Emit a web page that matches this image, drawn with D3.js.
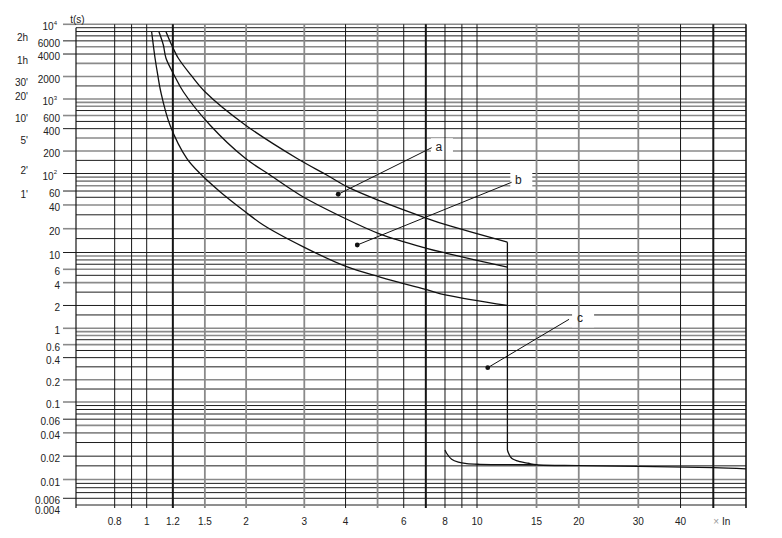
<!DOCTYPE html>
<html><head><meta charset="utf-8">
<script src="https://cdn.jsdelivr.net/npm/d3@7"></script>
<style>
body{margin:0;background:#fff}
text{font-family:"Liberation Sans",Arial,sans-serif}
</style>
</head><body>
<svg id="chart" width="782" height="538"></svg>
<script>
// ---------- data ----------
const xGridValues = [0.8,0.9,1,1.2,1.5,2,3,4,5,6,7,8,9,10,15,20,30,40,50];
const xThickValues = [1.2,7,50];
const xGreyValues = [1.5,2,3,5,15,20,30];
const xTickLabels = [0.8,1,1.2,1.5,2,3,4,6,8,10,15,20,30,40];
const xUnitLabel = "In";

const yGridValues = [10000,9000,8000,7000,6000,5000,4000,3000,2000,1500,
  1000,900,800,700,600,500,400,300,200,150,
  100,90,80,70,60,50,40,30,20,15,
  10,9,8,7,6,5,4,3,2,1.5,
  1,0.9,0.8,0.7,0.6,0.5,0.4,0.3,0.2,0.15,
  0.1,0.09,0.08,0.07,0.06,0.05,0.04,0.03,0.02,0.015,
  0.01,0.009,0.008,0.007,0.006,0.005];
const yGreyValues = [10000,5000,3000,2000,1500,1000,900,800,600,300,200,90,80,70,40,20,9,8,6,4,1,0.9,0.8,0.6,0.2,0.1,0.05,0.04,0.01];
const yTickLabels = [[10000,"10","4"],[6000,"6000"],[4000,"4000"],[2000,"2000"],[1000,"10","3"],
  [600,"600"],[400,"400"],[200,"200"],[100,"10","2"],[60,"60"],[40,"40"],[20,"20"],[10,"10"],
  [6,"6"],[4,"4"],[2,"2"],[1,"1"],[0.6,"0.6"],[0.4,"0.4"],[0.2,"0.2"],[0.1,"0.1"],
  [0.06,"0.06"],[0.04,"0.04"],[0.02,"0.02"],[0.01,"0.01"],[0.006,"0.006"],[0.004,"0.004"]];
const timeLabels = [["2h",7200],["1h",3600],["30'",1800],["20'",1200],["10'",600],["5'",300],["2'",120],["1'",60]];
const yUnitLabel = "t(s)";

// curves: [multiple of In, time in s]
const curveA = [[1.144,7950],[1.19,5280],[1.247,3510],[1.36,2100],[1.501,1250],[1.988,448],[2.846,160],[3.507,95.7],
  [4.08,66.6],[5.09,44.9],[7.04,27.1],[8.09,22.3],[12.3,13.5]];
const curveB = [[1.089,7950],[1.123,5280],[1.144,3510],[1.21,2100],[1.291,1250],[1.554,448],[1.988,160],[2.362,95.7],
  [2.98,50.4],[3.85,29.0],[5.09,17.1],[7.04,11.3],[8.09,9.76],[12.3,6.4]];
const curveC = [[1.035,7950],[1.047,5280],[1.06,3510],[1.08,2100],[1.103,1250],[1.176,448],[1.322,160],[1.467,95.7],
  [1.667,58.9],[1.988,32.8],[2.254,22.3],[2.98,11.8],[4.03,6.5],[5.09,4.75],[7.04,3.23],[8.09,2.74],[12.3,2.0]];
const dropA = [[12.3,13.5],[12.3,0.024]];
const tailA = [[12.3,0.024],[12.4,0.0218],[12.66,0.0188],[13.4,0.017],[14.18,0.0162],[15,0.0155],[20,0.0151],[30,0.0148],[50,0.0142],[62.5,0.0137]];
const dropTail8 = [[8,0.024],[8.09,0.0218],[8.38,0.0182],[8.78,0.0167],[9.31,0.016],[10.2,0.0157],[15,0.0155]];

// annotations: name, dot, line end, label position
const annotations = [
  {name:"a", dot:[3.80,54.6], end:[7.29,222], label:[7.67,225]},
  {name:"b", dot:[4.34,12.45], end:[12.66,77.4], label:[13.25,82.8]},
  {name:"c", dot:[10.76,0.292], end:[18.72,1.314], label:[20.18,1.355]}
];

// ---------- scales ----------
const x = d3.scaleLog().domain([0.611,1,10,50,62.5]).range([76,146.7,477,713.3,746]);
const y = d3.scaleLog().domain([10000,1000,100,10,1,0.1,0.01,0.005,0.004])
  .range([24.3,99,173.5,252.5,328.3,402,479.5,505,508]);

const svg = d3.select("#chart");
svg.append("rect").attr("width",782).attr("height",538).attr("fill","#fff");

const xMin = x(0.611), xMax = x(62.5);
const yTop = y(10000), yBot = y(0.004);
const isGreyY = v => yGreyValues.includes(v);

// horizontal grid
svg.append("g").selectAll("line").data(yGridValues).join("line")
  .attr("x1",xMin).attr("x2",xMax)
  .attr("y1",d=>y(d)).attr("y2",d=>y(d))
  .attr("stroke",d=>isGreyY(d)?"#8a8a8a":"#1e1e1e")
  .attr("stroke-width",d=>isGreyY(d)?1.6:1);

// tick extensions for labelled values
svg.append("g").selectAll("line").data(yTickLabels.filter(d=>d[0]>0.005)).join("line")
  .attr("x1",63).attr("x2",xMin)
  .attr("y1",d=>y(d[0])).attr("y2",d=>y(d[0]))
  .attr("stroke",d=>isGreyY(d[0])?"#8a8a8a":"#1e1e1e")
  .attr("stroke-width",d=>isGreyY(d[0])?1.6:1);

// white boxes behind annotation letters
svg.append("g").selectAll("rect").data(annotations).join("rect")
  .attr("x",d=>x(d.label[0])-8).attr("y",d=>y(d.label[1])-9)
  .attr("width",22).attr("height",18).attr("fill","#fff");

// vertical grid
svg.append("g").selectAll("line").data(xGridValues).join("line")
  .attr("x1",d=>x(d)).attr("x2",d=>x(d))
  .attr("y1",yTop).attr("y2",yBot)
  .attr("stroke",d=>xGreyValues.includes(d)?"#8a8a8a":"#151515")
  .attr("stroke-width",d=>xThickValues.includes(d)?2:(xGreyValues.includes(d)?1.8:1));
// frame sides
svg.append("line").attr("x1",xMin).attr("x2",xMin).attr("y1",y(9000)).attr("y2",yBot).attr("stroke","#151515").attr("stroke-width",1.2);
svg.append("line").attr("x1",xMax).attr("x2",xMax).attr("y1",yTop).attr("y2",yBot).attr("stroke","#151515").attr("stroke-width",1.6);

// curves
const smooth = d3.line().x(d=>x(d[0])).y(d=>y(d[1])).curve(d3.curveCatmullRom.alpha(0.5));
const straight = d3.line().x(d=>x(d[0])).y(d=>y(d[1]));
const cg = svg.append("g").attr("fill","none").attr("stroke","#111").attr("stroke-width",1.3);
[curveA,curveB,curveC,tailA,dropTail8].forEach(c=>cg.append("path").attr("d",smooth(c)));
cg.append("path").attr("d",straight(dropA));

// annotations
const ag = svg.append("g");
annotations.forEach(a=>{
  ag.append("line").attr("x1",x(a.dot[0])).attr("y1",y(a.dot[1]))
    .attr("x2",x(a.end[0])).attr("y2",y(a.end[1])).attr("stroke","#111").attr("stroke-width",1);
  ag.append("circle").attr("cx",x(a.dot[0])).attr("cy",y(a.dot[1])).attr("r",2.4).attr("fill","#111");
  ag.append("text").attr("x",x(a.label[0])).attr("y",y(a.label[1])).attr("dy","0.35em")
    .attr("text-anchor","middle").attr("font-size",12).attr("fill","#222").text(a.name);
});

// y labels
const tl = svg.append("g").attr("font-size",10).attr("fill","#222");
yTickLabels.forEach(d=>{
  const t = tl.append("text").attr("x",d[2]?57:60).attr("y",y(d[0])+2.5).attr("dy","0.35em").attr("text-anchor","end");
  t.append("tspan").text(d[1]);
  if(d[2]) t.append("tspan").attr("font-size",6).attr("dy","-0.9em").text(d[2]);
});
timeLabels.forEach(d=>{
  tl.append("text").attr("x",28).attr("y",y(d[1])+3).attr("dy","0.35em").attr("text-anchor","end").text(d[0]);
});
tl.append("text").attr("x",77.5).attr("y",19).attr("dy","0.35em").attr("text-anchor","middle").text(yUnitLabel);

// x labels
xTickLabels.forEach(v=>{
  tl.append("text").attr("x",x(v)).attr("y",521).attr("dy","0.35em").attr("text-anchor","middle").text(v);
});
const ul = tl.append("text").attr("x",x(50)).attr("y",521).attr("dy","0.35em").attr("text-anchor","start");
ul.append("tspan").attr("fill","#999").text("× ");
ul.append("tspan").text(xUnitLabel);
</script>
</body></html>
